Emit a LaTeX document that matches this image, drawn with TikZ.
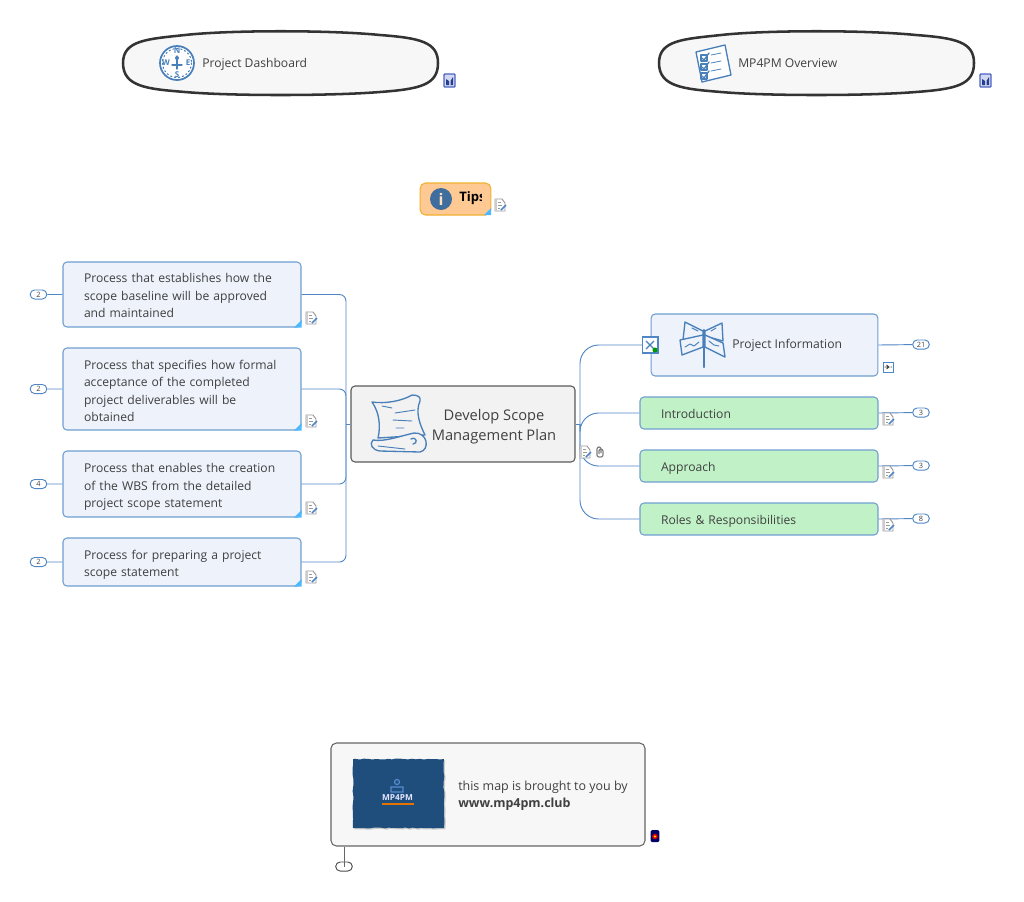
\documentclass[tikz,border=0pt]{standalone}
\usepackage{fontspec}
\setmainfont{Open Sans}
\usetikzlibrary{shapes.misc, shapes.geometric}
\usetikzlibrary{decorations.pathmorphing, shadows}
\definecolor{topic_line}{HTML}{6F9FD0}
\definecolor{topic_fill}{HTML}{EDF2FB}
\definecolor{green_fill}{HTML}{C1F2C7}
\definecolor{link_blue}{HTML}{4F86C6}
\definecolor{ink_blue}{HTML}{4A80BA}
\definecolor{text_gray}{HTML}{404040}
\definecolor{tips_fill}{HTML}{FFC993}
\definecolor{tips_line}{HTML}{F0B030}
\definecolor{card_fill}{HTML}{F7F7F7}
\definecolor{center_fill}{HTML}{F2F2F2}
\definecolor{logo_blue}{HTML}{1F4E7D}
\definecolor{map_line}{HTML}{4A62C4}
\definecolor{map_bar}{HTML}{26408F}
\tikzset{
  note_icon/.pic={
    \fill[white, draw=gray!80, line width=0.7pt] (-5,-6) -- (2,-6) -- (5,-2) -- (5,6) -- (-5,6) -- cycle;
    \draw[gray!80, line width=0.7pt] (-2,-3) -- (1,-3) (-2,0) -- (2,0) (-2,3) -- (0,3);
    \fill[gray!40] (-4.6,-5.6) rectangle (-2.8,5.6);
    \draw[link_blue, line width=1.1pt] (1,5) -- (6,0);
  },
  map_icon/.pic={
    \fill[map_line!25!white, draw=map_line, line width=1pt, rounded corners=0.6pt] (-5.5,-6.5) rectangle (5.5,6.5);
    \fill[map_bar] (-3.5,-1.5) -- (-0.5,0.5) -- (-0.5,4.5) -- (-3.5,4.5) -- cycle (1,0.5) -- (3.5,-3.5) -- (3.5,4.5) -- (1,4.5) -- cycle;
  },
}
\begin{document}
\begin{tikzpicture}[
    x=0.75pt, y=-0.75pt,
    every node/.style={font=\fontsize{9.1}{13}\selectfont, text=text_gray},
    board_line/.style={draw=black!80, line width=1.9pt, fill=card_fill},
    text_drop/.style={execute at begin node={\rule{0pt}{#1}}},
    topic_box/.style={rectangle, rounded corners=3pt, draw=topic_line, line width=0.8pt,
      fill=topic_fill, minimum width=178.5pt, text width=147pt, inner xsep=15.75pt, inner ysep=0pt, align=left},
    green_box/.style={rectangle, rounded corners=3pt, draw=topic_line, line width=0.8pt,
      fill=green_fill, minimum width=178.5pt, minimum height=24pt, text width=147pt, inner xsep=15.75pt, inner ysep=0pt, align=left},
    count_badge/.style={rounded rectangle, draw=link_blue, line width=0.7pt, fill=white, minimum width=12.5pt,
      minimum height=6.8pt, inner sep=0pt, font=\fontsize{5.5}{6}\selectfont},
    link_line/.style={draw=link_blue, line width=0.7pt, rounded corners=5pt},
    sketch/.style={draw=ink_blue, line width=1pt, line join=round, line cap=round},
    compass_letter/.style={inner sep=0pt, font=\fontsize{6}{6}\bfseries\selectfont, text=ink_blue},
  ]

  % outer frame
  \useasboundingbox (0,0) rectangle (1024,901);

  % top boards
  \path[board_line] (123,63) .. controls (123,40) and (148,39) .. (185,35)
    .. controls (230,30) and (330,30) .. (380,35) .. controls (420,38) and (438,42) .. (438,63)
    .. controls (438,85) and (420,89) .. (380,92) .. controls (330,96) and (230,96) .. (185,92)
    .. controls (148,89) and (123,87) .. (123,63) -- cycle;
  \node[anchor=west, inner sep=0pt] (dash_text) at (202,64) {Project Dashboard};
  \path[board_line] (659,63) .. controls (659,40) and (684,39) .. (721,35)
    .. controls (766,30) and (866,30) .. (916,35) .. controls (956,38) and (974,42) .. (974,63)
    .. controls (974,85) and (956,89) .. (916,92) .. controls (866,96) and (766,96) .. (721,92)
    .. controls (684,89) and (659,87) .. (659,63) -- cycle;
  \node[anchor=west, inner sep=0pt] (over_text) at (738,63.5) {MP4PM Overview};
  \pic at (449.5,80.5) {map_icon};
  \pic at (985.5,80.5) {map_icon};

  % compass
  \draw[sketch, fill=white, line width=1.3pt] (177,63) circle (17);
  \draw[sketch, line width=0.8pt, dash pattern=on 1pt off 2pt] (177,63) circle (14.5);
  \draw[sketch] (177,56) -- (177,69) (172,65) -- (182,65);
  \fill[ink_blue] (177,58) circle (2);
  \node[compass_letter] (comp_n) at (177,51) {N};
  \node[compass_letter] (comp_s) at (177,74.5) {S};
  \node[compass_letter] (comp_w) at (166,63) {W};
  \node[compass_letter] (comp_e) at (188,63) {E};

  % checklist
  \draw[sketch, fill=white] (696,52) -- (725,45) -- (731,75) -- (702,82) -- cycle;
  \foreach \i in {0,1,2}{
    \draw[sketch] (701,{55+\i*9}) rectangle ++(6,6);
    \draw[sketch] (702,{58+\i*9}) -- (704,{60+\i*9}) -- (709,{53+\i*9});
    \draw[sketch, line width=0.6pt] (711,{55+\i*8}) -- (721,{53+\i*8});
  }

  % tips
  \node[rectangle, rounded corners=4pt, draw=tips_line, line width=0.8pt, fill=tips_fill,
    minimum width=53pt, minimum height=24pt] (tips_box) at (455.5,199) {};
  \fill[ink_blue!85!black] (441,199) circle (11);
  \node[inner sep=0pt, font=\fontsize{12}{12}\bfseries\selectfont, text=tips_fill!60!white] (tips_i) at (441,199) {i};
  \begin{scope}
    \clip (455,185) rectangle (481,213);
    \node[anchor=west, inner sep=0pt, font=\fontsize{9.8}{11}\bfseries\selectfont, text=black] (tips_text) at (459,198.5) {Tips};
  \end{scope}
  \fill[blue!40!cyan!70] (491,208) -- (491,215) -- (484,215) -- cycle;
  \pic at (500,205) {note_icon};

  % left topics
  \node[topic_box, text_drop=8.4pt, minimum height=48.75pt] (base_box) at (182,294.5) {Process that establishes how the\\ scope baseline will be approved\\ and maintained};
  \node[topic_box, text_drop=9.9pt, minimum height=61.5pt] (accept_box) at (182,389) {Process that specifies how formal\\ acceptance of the completed\\ project deliverables will be\\ obtained};
  \node[topic_box, text_drop=11.4pt, minimum height=49.5pt] (wbs_box) at (182,484) {Process that enables the creation\\ of the WBS from the detailed\\ project scope statement};
  \node[topic_box, text_drop=11.4pt, minimum height=36pt] (state_box) at (182,562) {Process for preparing a project\\ scope statement};
  \foreach \y in {327,430,517,586}{
    \fill[blue!40!cyan!70] (301.5,\y-7) -- (301.5,\y+0.5) -- (294,\y+0.5) -- cycle;
  }
  \pic at (311,318) {note_icon};
  \pic at (311,421) {note_icon};
  \pic at (311,508) {note_icon};
  \pic at (311,577) {note_icon};

  \node[count_badge] (base_count) at (38.5,294.5) {2};
  \node[count_badge] (accept_count) at (38.5,389) {2};
  \node[count_badge] (wbs_count) at (38.5,484) {4};
  \node[count_badge] (state_count) at (38.5,562) {2};
  \draw[link_line] (base_count) -- (base_box);
  \draw[link_line] (accept_count) -- (accept_box);
  \draw[link_line] (wbs_count) -- (wbs_box);
  \draw[link_line] (state_count) -- (state_box);

  % center
  \node[rectangle, rounded corners=3pt, draw=black!65, line width=0.8pt, fill=center_fill,
    minimum width=168pt, minimum height=57pt] (center_box) at (463,424) {};
  \node[align=center, inner sep=0pt, font=\fontsize{11}{15}\selectfont] (center_text) at (494,427) {Develop Scope\\ Management Plan};
  \coordinate (left_trunk) at (346,424);
  \coordinate (right_trunk) at (580,424);

  % scroll
  \draw[sketch, fill=center_fill] (372,402) .. controls (385,404) and (402,401) .. (412,395)
    .. controls (418,395) and (421,397) .. (420,401) .. controls (415,412) and (420,425) .. (425,435)
    -- (378,438) .. controls (381,425) and (379,412) .. (372,402) -- cycle;
  \draw[sketch, fill=center_fill] (373,440) .. controls (385,442) and (400,436) .. (414,433)
    .. controls (428,432) and (430,450) .. (420,452) -- (380,451)
    .. controls (372,450) and (369,444) .. (373,440) -- cycle;
  \draw[sketch] (411,439) .. controls (417,436) and (418,444) .. (413,444);
  \draw[sketch, line width=0.7pt] (382,406) -- (392,408) (395,413) -- (415,410) (393,420) -- (412,421) (396,428) -- (404,428)
    (378,446) -- (405,449);

  % right topics
  \node[rectangle, rounded corners=3pt, draw=topic_line, line width=0.8pt, fill=topic_fill,
    minimum width=170pt, minimum height=46.5pt] (info_box) at (764.5,345) {};
  \node[anchor=west, inner sep=0pt] (info_text) at (732,345.5) {Project Information};
  \node[green_box, text_drop=8.4pt] (intro_box) at (759,413) {Introduction};
  \node[green_box, text_drop=9.9pt] (appr_box) at (759,466) {Approach};
  \node[green_box, text_drop=9.9pt] (role_box) at (759,519) {Roles \& Responsibilities};

  % signpost
  \draw[sketch, fill=topic_fill] (685,322) -- (703,331) -- (703,338) -- (683,340) -- cycle;
  \draw[sketch, fill=topic_fill] (722,323) -- (705,331) -- (705,336) -- (723,341) -- cycle;
  \draw[sketch, fill=topic_fill] (680,340) -- (703,335) -- (703,347) -- (682,355) -- cycle;
  \draw[sketch, fill=topic_fill] (705,335) -- (723,343) -- (725,357) -- (705,347) -- cycle;
  \draw[sketch, line width=1.6pt] (704,330) -- (704,367);
  \draw[sketch, line width=0.7pt] (685,347) -- (690,344) -- (694,346) -- (699,342)
    (709,341) -- (714,345) -- (719,346) (692,328) -- (698,331) (716,328) -- (711,331);

  \node[count_badge] (info_count) at (921,344.5) {21};
  \node[count_badge] (intro_count) at (921,412.5) {3};
  \node[count_badge] (appr_count) at (921,465.5) {3};
  \node[count_badge] (role_count) at (921,518.5) {8};
  \draw[link_line] (info_box.east) -- (info_count);
  \draw[link_line] (intro_box.east) -- (intro_count);
  \draw[link_line] (appr_box.east) -- (appr_count);
  \draw[link_line] (role_box.east) -- (role_count);

  % branch lines
  \draw[link_line] (base_box.east) -| (left_trunk);
  \draw[link_line] (accept_box.east) -| (left_trunk);
  \draw[link_line] (wbs_box.east) -| (left_trunk);
  \draw[link_line] (state_box.east) -| (left_trunk);
  \draw[link_line] (left_trunk) -- (center_box.west);
  \draw[link_line] (center_box.east) -- (right_trunk);
  \draw[link_line, rounded corners=14pt] (right_trunk) |- (info_box.west);
  \draw[link_line, rounded corners=14pt] (right_trunk) |- (intro_box.west);
  \draw[link_line, rounded corners=14pt] (right_trunk) |- (appr_box.west);
  \draw[link_line, rounded corners=14pt] (right_trunk) |- (role_box.west);

  % small markers
  \pic at (585,452) {note_icon};
  \draw[gray, line width=0.9pt, rounded corners=1.5pt] (599,454) -- (599,449) -- (603,449) -- (603,457) -- (597,457) -- (597,447) -- (601,447) -- (601,453);
  \draw[link_blue, line width=0.9pt, fill=white] (642.5,337) rectangle (658,353);
  \draw[ink_blue, line width=0.9pt] (646,341) -- (654,349) (654,341) -- (646,349);
  \fill[green!60!black] (655,350) circle (2.5);
  \draw[link_blue, line width=0.6pt, fill=white] (883,362) rectangle (893,372);
  \draw[black!80, line width=0.6pt] (884.5,367) -- (889,367) (886.5,365) -- (889,367) -- (886.5,369) (890.5,367) -- (892,367);
  \pic at (888,419) {note_icon};
  \pic at (888,472) {note_icon};
  \pic at (888,525) {note_icon};

  % bottom card
  \node[rectangle, rounded corners=4pt, draw=black!60, line width=0.8pt, fill=card_fill,
    minimum width=235.5pt, minimum height=77.25pt] (card_box) at (488,794.5) {};
  \fill[logo_blue, drop shadow={opacity=0.35, shadow xshift=1pt, shadow yshift=-1pt},
    decorate, decoration={random steps, segment length=3pt, amplitude=0.4pt}]
    (353,759) rectangle (444,828);
  \draw[cyan!50!blue!70, line width=0.9pt] (397,782) circle (2.5) (391,792) -- (391,787) -- (403,787) -- (403,792) -- cycle;
  \node[inner sep=0pt, font=\fontsize{6.2}{7}\bfseries\selectfont, text=blue!10!white] (logo_text) at (397.5,798) {MP4PM};
  \draw[orange!90!black, line width=0.8pt] (382,804) -- (414,804);
  \node[anchor=west, align=left, inner sep=0pt, font=\fontsize{9.35}{13}\selectfont] (card_text) at (458,796) {this map is brought to you by\\ \textbf{www.mp4pm.club}};
  \node[rectangle, rounded corners=1pt, fill=blue!40!black, minimum width=6.5pt, minimum height=9pt, inner sep=0pt] (card_file) at (655,836) {};
  \fill[red!85!black] (655,836.5) circle (2.8);
  \fill[yellow!80!orange] (655,836.5) circle (1.2);
  \node[count_badge, draw=black!70] (card_count) at (344,866.5) {};
  \draw[black!60, line width=0.7pt] (card_box.south -| card_count) -- (card_count.center);
\end{tikzpicture}
\end{document}
